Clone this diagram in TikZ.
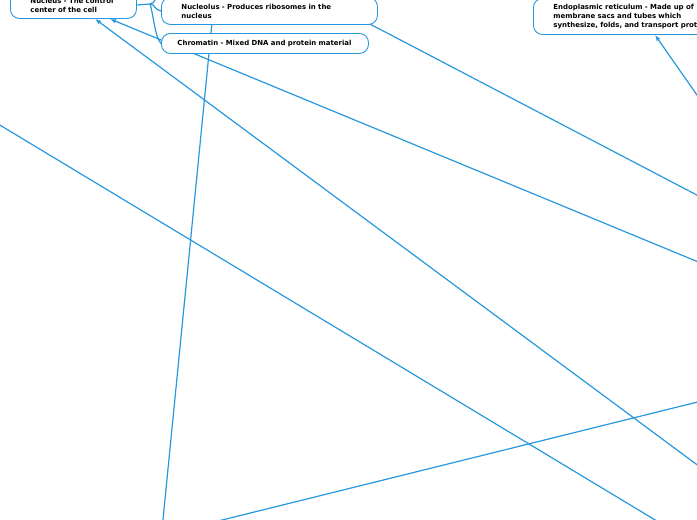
\documentclass[tikz,border=0pt]{standalone}
\usepackage{fontspec}
\setmainfont{DejaVu Sans}
\usetikzlibrary{arrows.meta,backgrounds}
\definecolor{mmblue}{RGB}{40,152,222}
\begin{document}
\begin{tikzpicture}[x=1pt,y=-1pt,
  conn/.style={draw=mmblue, line width=1.2pt},
  tipped/.style={-{Latex[length=6pt,width=4.5pt]}},
  topic/.style={draw=mmblue, line width=0.9pt, fill=white, rounded corners=9pt,
    font=\bfseries\fontsize{6.95}{9}\selectfont, align=left, anchor=north west,
    inner ysep=2pt}]
\useasboundingbox (0,0) rectangle (697,520);
\clip (0,0) rectangle (697,520);
% nodes
\node[topic, inner xsep=20pt, text width=86pt, minimum height=27pt] (nucleus) at (10,-9)
  {Nucleus - The control\\center of the cell};
\node[topic, inner xsep=20pt, text width=176pt, minimum height=27pt] (nucleolus) at (161,-3)
  {Nucleolus - Produces ribosomes in the\\nucleus};
\node[topic, inner xsep=16pt, text width=175pt, minimum height=20pt] (chromatin) at (161,33)
  {Chromatin - Mixed DNA and protein material};
\node[topic, inner xsep=20pt, text width=230pt, minimum height=36pt] (er) at (533,-2)
  {Endoplasmic reticulum - Made up of\\membrane sacs and tubes which\\synthesize, folds, and transport proteins};
% free ends
\coordinate (f1) at (800,249);
\coordinate (f2) at (800,304);
\coordinate (f3) at (800,541);
\coordinate (f4a) at (-50,95);
\coordinate (f4b) at (700,547);
\coordinate (f5) at (720,128);
\coordinate (f6a) at (200,525.5);
\coordinate (f6b) at (750,389);
\coordinate (f7) at (160,550);
\coordinate (hub) at (150,4);
\coordinate (up) at (158,-12);
\begin{scope}[on background layer]
\clip (0,0) rectangle (697,520);
\draw[conn] ([xshift=-12pt,yshift=3pt]nucleolus.south east) -- (f1);
\draw[conn,tipped] (f2) -- ([xshift=100pt]nucleus.south west);
\draw[conn,tipped] (f3) -- ([xshift=85pt]nucleus.south west);
\draw[conn] (f4a) -- (f4b);
\draw[conn,tipped] (f5) -- ([xshift=122pt]er.south west);
\draw[conn] (f6a) -- (f6b);
\draw[conn] ([xshift=51pt,yshift=2pt]nucleolus.south west) -- (f7);
\draw[conn] (nucleus.east) -- (hub);
\draw[conn] (hub) .. controls (155,4) and (155,10.5) .. (nucleolus.west);
\draw[conn] (hub) .. controls (153,12) and (155,38) .. (chromatin.west);
\draw[conn] (hub) .. controls (155,4) and (157,-4) .. (up);
\end{scope}
\end{tikzpicture}
\end{document}
